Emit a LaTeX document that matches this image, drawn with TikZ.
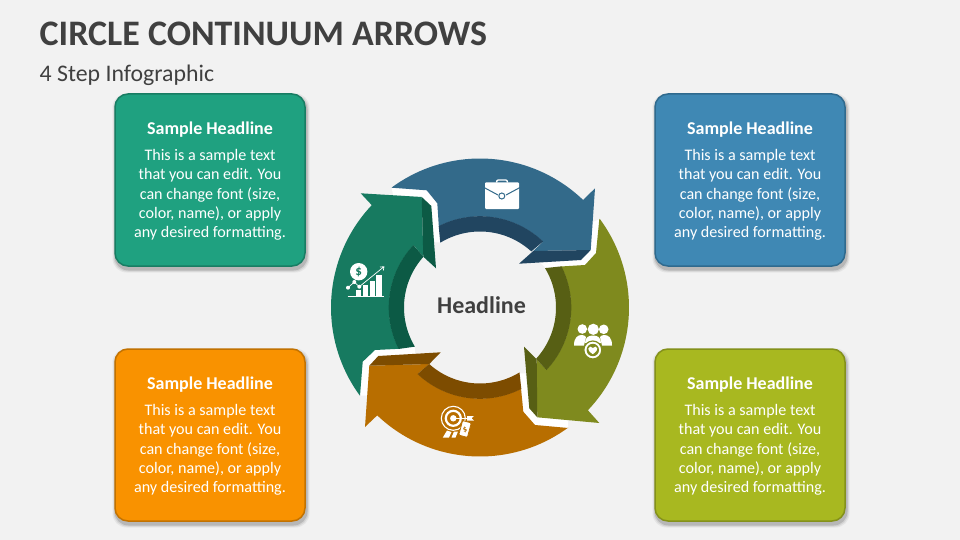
\documentclass[tikz,border=0pt]{standalone}
\usepackage{fontspec}
\setmainfont{Carlito}
\definecolor{bg}{HTML}{F2F2F2}
\definecolor{ink}{HTML}{404040}
\definecolor{blueA}{HTML}{336A8A}\definecolor{blueB}{HTML}{214560}
\definecolor{greenA}{HTML}{177A60}\definecolor{greenB}{HTML}{0C5A45}
\definecolor{oliveA}{HTML}{7F8A1E}\definecolor{oliveB}{HTML}{575F14}
\definecolor{orangeA}{HTML}{B86E00}\definecolor{orangeB}{HTML}{7D4C00}
\definecolor{boxG}{HTML}{1FA180}\definecolor{edgeG}{HTML}{187D63}
\definecolor{boxB}{HTML}{3F88B4}\definecolor{edgeB}{HTML}{2F6A8E}
\definecolor{boxO}{HTML}{F99200}\definecolor{edgeO}{HTML}{C27200}
\definecolor{boxL}{HTML}{A8B820}\definecolor{edgeL}{HTML}{84911A}
\tikzset{
  declare function={rimx(\r,\a)=480+\r*cos(\a); rimy(\r,\a)=307.5+\r*sin(\a);},
  rim/.style={domain=#1,samples=40,variable=\t},
  boxface/.style={rounded corners=13pt,minimum width=190pt,minimum height=172pt,line width=1.5pt,inner sep=0pt},
  headtext/.style={text=white,font=\fontsize{18}{22}\selectfont\bfseries,anchor=base},
  bodytext/.style={text=white,align=center,font=\fontsize{16.1}{19.35}\selectfont,anchor=north,inner sep=0pt},
  icon/.style={fill=white,draw=none}
}
\newcommand{\infobox}[5]{%
  \foreach \s/\o in {3.5/0.05,2.5/0.08,1.5/0.13}{
    \fill[black,opacity=\o,rounded corners=14pt] (#2-95-\s+1,#3-86-\s+3) rectangle (#2+95+\s+1,#3+86+\s+3);}
  \node[boxface,fill=#4,draw=#5] (#1) at (#2,#3) {};
  \node[headtext] (#1h) at (#2,#3-45.2) {Sample Headline};
  \node[bodytext] (#1t) at (#2,#3-31) {This is a sample text\\that you can edit. You\\can change font (size,\\color, name), or apply\\any desired formatting.};
}
\begin{document}
\begin{tikzpicture}[x=1pt,y=-1pt]
\fill[bg] (0,0) rectangle (960,540);
\useasboundingbox (0,0) rectangle (960,540);
\node[anchor=base west,inner sep=0pt,text=ink,font=\fontsize{35.9}{40}\selectfont\bfseries] (title) at (39.5,45.5) {CIRCLE CONTINUUM ARROWS};
\node[anchor=base west,inner sep=0pt,text=ink,font=\fontsize{23.8}{26}\selectfont] (sub) at (39.5,81.3) {4 Step Infographic};

\infobox{bG}{210}{180}{boxG}{edgeG}
\infobox{bB}{750}{180}{boxB}{edgeB}
\infobox{bO}{210}{435}{boxO}{edgeO}
\infobox{bL}{750}{435}{boxL}{edgeL}

% white gaps between the arrows
\fill[white] (391.7,187.7) -- (426.7,190.3) -- (437.3,203.3) -- (440,242.3) -- (434.5,242.3) -- (431.3,206) -- (421.7,197) -- (393,195) -- cycle;
\fill[white] (592.7,222) -- (599.3,219.3) -- (596,253) -- (585,265) -- (545.7,267.7) -- (540,262.4) -- (581,260) -- (590.7,250) -- cycle;
\fill[white] (568.3,428) -- (535,425) -- (523.3,411.7) -- (520,373.3) -- (525.5,373.3) -- (529.3,408.3) -- (537.3,417.3) -- (568,420) -- cycle;
\fill[white] (414.7,346.7) -- (375,350) -- (362.7,361.7) -- (360,395.7) -- (367,395.7) -- (369.3,365.7) -- (378.3,356) -- (415,353.8) -- cycle;

% blue arrow
\fill[blueA] (426.7,190.3) -- (391.7,187.7) -- plot[rim=233.6:313.8] ({rimx(149,\t)},{rimy(149,\t)}) -- (595,188.3) -- (590.7,250) -- (533.3,251) -- (541.7,243) -- plot[rim=313.7:243.1] ({rimx(91,\t)},{rimy(91,\t)}) -- (437.3,203.3) -- cycle;
\fill[blueB] (590.7,250) -- (581,260) -- (519,263.7) -- (533.3,251) -- cycle;
\fill[blueB] plot[rim=243.1:313.7] ({rimx(91.3,\t)},{rimy(91.3,\t)}) -- (531.7,251) -- plot[rim=312.5:238.5] ({rimx(76,\t)},{rimy(76,\t)}) -- cycle;
% olive arrow
\fill[oliveA] (599.3,219.3) -- plot[rim=-36.5:43.6] ({rimx(149,\t)},{rimy(149,\t)}) -- (599.3,423) -- (537.3,417.3) -- (536.7,359.3) -- (545.7,369.3) -- plot[rim=43.3:-26.8] ({rimx(91,\t)},{rimy(91,\t)}) -- (585,265) -- (596,253) -- cycle;
\fill[oliveB] (524,346.7) -- (536.7,359.3) -- (537.3,417.3) -- (529.3,408.3) -- cycle;
\fill[oliveB] plot[rim=-26.8:43.3] ({rimx(91.3,\t)},{rimy(91.3,\t)}) -- plot[rim=42.4:-31.2] ({rimx(76,\t)},{rimy(76,\t)}) -- cycle;
% orange arrow
\fill[orangeA] (568.3,428) -- (535,425) -- (523.3,411.7) -- (521,388.3) -- plot[rim=63.1:133.2] ({rimx(91,\t)},{rimy(91,\t)}) -- (429.3,364) -- (369.3,365.7) -- (365,427) -- (377.3,415.3) -- plot[rim=133.6:53.8] ({rimx(149,\t)},{rimy(149,\t)}) -- cycle;
\fill[orangeB] (378.3,356) -- (440.7,352.3) -- (429.3,364) -- (369.3,365.7) -- cycle;
\fill[orangeB] plot[rim=63.1:133.2] ({rimx(91.3,\t)},{rimy(91.3,\t)}) -- plot[rim=132:58.7] ({rimx(76,\t)},{rimy(76,\t)}) -- cycle;
% green arrow
\fill[greenA] (360.7,193.3) -- (421.7,197) -- (423.3,256.7) -- (414.3,246) -- plot[rim=223.1:153] ({rimx(91,\t)},{rimy(91,\t)}) -- (375,350) -- (362.7,361.7) -- (360,395.7) -- plot[rim=143.7:223.4] ({rimx(149,\t)},{rimy(149,\t)}) -- cycle;
\fill[greenB] (421.7,197) -- (431.3,206) -- (436,268.3) -- (423.3,256.7) -- cycle;
\fill[greenB] plot[rim=153:223.1] ({rimx(91.3,\t)},{rimy(91.3,\t)}) -- plot[rim=221.9:149] ({rimx(76,\t)},{rimy(76,\t)}) -- cycle;

\node[text=ink,font=\fontsize{24}{28}\selectfont\bfseries,anchor=base] (centre) at (481.5,313) {Headline};

% briefcase
\draw[draw=white,line width=1.3pt,rounded corners=1pt] (496.5,182.5) -- (497,180) -- (507,180) -- (507.5,182.5);
\fill[icon,rounded corners=1pt] (485,182.3) rectangle (519,209);
\draw[draw=blueA,line width=1pt] (484,187.5) -- (498,195) (506,195) -- (520,187.5);
\draw[draw=blueA,line width=1pt,fill=white] (501.8,196) circle[radius=3pt];
% chart
\fill[icon] (358.7,271.7) circle[radius=8.7pt];
\node[text=greenA,font=\fontsize{13}{14}\selectfont\bfseries,inner sep=0pt] (dollar) at (358.7,271.7) {\$};
\fill[icon] (356,290) rectangle (361,295.7);
\fill[icon] (362.7,285) rectangle (367.7,295.7);
\fill[icon] (369.7,280.7) rectangle (374.7,295.7);
\fill[icon] (376.3,275.3) rectangle (381.7,295.7);
\draw[draw=white,line width=.7pt] (347.7,296.7) -- (384,296.7);
\draw[draw=white,line width=.7pt] (348,287.7) -- (354.3,282) -- (359.3,286.7) -- (384,266.7) (380,267) -- (384,266.7) -- (383.3,270.5);
\foreach \u/\v in {348/287.7,354.3/282,359.3/286.7} \fill[icon] (\u,\v) circle[radius=2pt];
% people
\fill[icon] (582.3,329) circle[radius=4.8pt] (593.3,329.3) circle[radius=5.6pt] (603.7,329.3) circle[radius=4.8pt];
\fill[icon] (574,345.5) .. controls (574,337) and (578,335) .. (582,335) .. controls (584,335) and (585,336) .. (586,337) -- (584,345.5) -- cycle;
\fill[icon] (612,345.5) .. controls (612,337) and (608,335) .. (604,335) .. controls (602,335) and (601,336) .. (600,337) -- (602,345.5) -- cycle;
\fill[icon] (585,343) .. controls (585,337) and (589,335.5) .. (593,335.5) .. controls (597,335.5) and (601,337) .. (601,343) -- cycle;
\draw[draw=oliveA,line width=1.2pt,fill=white] (592.8,350) circle[radius=9pt];
\fill[oliveA] (592.8,350) circle[radius=6.2pt];
\fill[icon] (592.8,354.2) .. controls (589,351.5) and (588.3,350) .. (588.3,348.6) .. controls (588.3,346.3) and (591.5,345.8) .. (592.8,348) .. controls (594.1,345.8) and (597.3,346.3) .. (597.3,348.6) .. controls (597.3,350) and (596.6,351.5) .. (592.8,354.2) -- cycle;
% target
\draw[draw=white,line width=1.1pt] (453.3,418.3) circle[radius=12pt];
\draw[draw=white,line width=2.2pt] (453.3,418.3) circle[radius=7.5pt];
\fill[icon] (453.3,418.3) circle[radius=3.2pt];
\draw[draw=white,line width=1pt] (453.3,418.3) -- (472,418.3);
\fill[icon] (467,416) -- (474,416) -- (471.5,418.3) -- (474,420.6) -- (467,420.6) -- cycle;
\fill[icon] (442.8,437.5) -- (447,430.5) -- (451.5,432) -- (449,437.5) -- cycle;
\fill[icon] (451.5,437.5) -- (454,431.5) -- (458,431.5) -- (455.5,437.5) -- cycle;
\draw[draw=orangeA,line width=.8pt,fill=white,rotate around={-15:(465,429)},rounded corners=1pt] (460.5,421.5) -- (469.5,421.5) -- (469.5,436.5) -- (460.5,436.5) -- cycle;
\node[text=orangeA,font=\fontsize{8}{9}\selectfont\bfseries,inner sep=0pt,rotate=15] (tagd) at (465,430) {\$};
\end{tikzpicture}
\end{document}
